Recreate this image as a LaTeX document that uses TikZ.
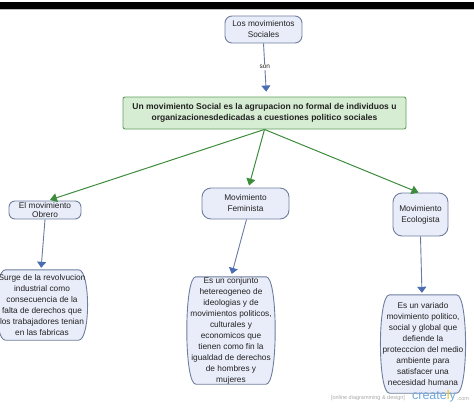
\documentclass[tikz,border=0pt]{standalone}
\usepackage{fontspec}
\setmainfont{Liberation Sans}
\usetikzlibrary{arrows.meta,backgrounds}
\definecolor{bluefill}{HTML}{E9EDF9}
\definecolor{blueline}{HTML}{6F7E9E}
\definecolor{conn}{HTML}{6A7BA3}
\definecolor{headblue}{HTML}{4A6CB3}
\definecolor{greenfill}{HTML}{D7EDD3}
\definecolor{greenline}{HTML}{5E9E5E}
\definecolor{greenconn}{HTML}{3C8C3C}
\definecolor{txt}{HTML}{222222}
\definecolor{wmgray}{HTML}{A8A8A8}
\definecolor{wmblue}{HTML}{6FA6DA}
\definecolor{wmyellow}{HTML}{F2C400}
\tikzset{
  basefont/.style={font=\fontsize{8.3}{11}\selectfont, text=txt},
  concept/.style={basefont, draw=blueline, fill=bluefill, rounded corners=7pt,
    line width=0.9pt, align=center, inner sep=0pt},
  textbox/.style={basefont, align=center, inner sep=0pt},
  bulgestyle/.style={draw=blueline, fill=bluefill, line width=0.9pt},
  mainbox/.style={font=\fontsize{8.5}{11}\selectfont\bfseries, text=txt, draw=greenline,
    fill=greenfill, rounded corners=2pt, line width=0.9pt, align=center, inner sep=0pt},
  blueconn/.style={draw=conn, line width=0.9pt, -{Triangle[width=9pt,length=6pt,color=headblue]}},
  greenconnector/.style={draw=greenconn, line width=1pt, -{Triangle[width=9pt,length=7pt,color=greenconn]}},
  wmsmall/.style={font=\fontsize{5.5}{6}\selectfont, text=wmgray, inner sep=0pt}
}
\newcommand\bulgebox[1]{%
  \draw[bulgestyle] ([xshift=7pt]#1.north west) -- ([xshift=-7pt]#1.north east)
    .. controls ([xshift=5pt]#1.north east) and ([xshift=5pt]#1.south east) .. ([xshift=-7pt]#1.south east)
    -- ([xshift=7pt]#1.south west)
    .. controls ([xshift=-5pt]#1.south west) and ([xshift=-5pt]#1.north west) .. ([xshift=7pt]#1.north west) -- cycle;}
\begin{document}
\begin{tikzpicture}[x=1pt,y=-1pt]
\useasboundingbox (0,0) rectangle (474,408);
\fill[black] (0,1.5) rectangle (474,9);
\draw[gray!50, line width=0.6pt] (0,9.5) -- (474,9.5);

\node[concept, minimum width=77pt, minimum height=27pt] (los) at (263.5,29.5) {Los movimientos\\Sociales};
\node[mainbox, minimum width=283pt, minimum height=32pt] (main) at (264.5,113)
  {Un movimiento Social es la agrupacion no formal de individuos u\\organizacionesdedicadas a cuestiones politico sociales};
\node[concept, minimum width=72pt, minimum height=18pt, rounded corners=6pt,
  font=\fontsize{8.3}{9.5}\selectfont] (obrero) at (45,210) {El movimiento\\Obrero};
\node[concept, minimum width=87pt, minimum height=31pt, rounded corners=9pt] (femin) at (245.5,203.5) {Movimiento\\Feminista};
\node[concept, minimum width=55pt, minimum height=43pt, rounded corners=9pt] (ecol) at (420.5,214.5) {Movimiento\\Ecologista};

\node[textbox, minimum width=86pt, minimum height=70pt] (surge) at (42,305)
  {Surge de la revolvucion\\industrial como\\consecuencia de la\\falta de derechos que\\los trabajadores tenian\\en las fabricas};
\node[textbox, minimum width=84pt, minimum height=107pt] (femtext) at (231,330.5)
  {Es un conjunto\\hetereogeneo de\\ideologias y de\\movimientos politicos,\\culturales y\\economicos que\\tienen como fin la\\igualdad de derechos\\de hombres y\\mujeres};
\node[textbox, minimum width=78pt, minimum height=98pt] (ecotext) at (423,344)
  {Es un variado\\movimiento politico,\\social y global que\\defiende la\\protecccion del medio\\ambiente para\\satisfacer una\\necesidad humana};

\begin{scope}[on background layer]
  \bulgebox{surge}
  \bulgebox{femtext}
  \bulgebox{ecotext}
\end{scope}

\draw[blueconn, shorten >=5pt] (los.south) -- node[pos=0.44, fill=white, inner sep=1.5pt,
  font=\fontsize{6.5}{7}\selectfont, text=txt] (son) {son} ([xshift=2pt]main.north);

\draw[greenconnector, shorten >=2pt] (main.south) -- ([xshift=3pt]obrero.north);
\draw[greenconnector, shorten >=2pt] (main.south) -- ([xshift=3pt]femin.north);
\draw[greenconnector] (main.south) -- ([xshift=-2pt]ecol.north);

\draw[blueconn, shorten >=2pt] (obrero.south) -- ([xshift=-1pt]surge.north);
\draw[blueconn, shorten >=3pt] ([xshift=1pt]femin.south) -- (femtext.north);
\draw[blueconn, shorten >=2pt] (ecol.south) -- ([xshift=-1pt]ecotext.north);

\node[wmsmall] (wm1) at (368,398) {[online diagramming \& design]};
\node[font=\fontsize{12.5}{13}\selectfont, text=wmblue, inner sep=0pt] (wm2) at (434,396.5) {create\textcolor{wmyellow}{l}y};
\node[wmsmall] (wm3) at (463,399) {.com};
\end{tikzpicture}
\end{document}
